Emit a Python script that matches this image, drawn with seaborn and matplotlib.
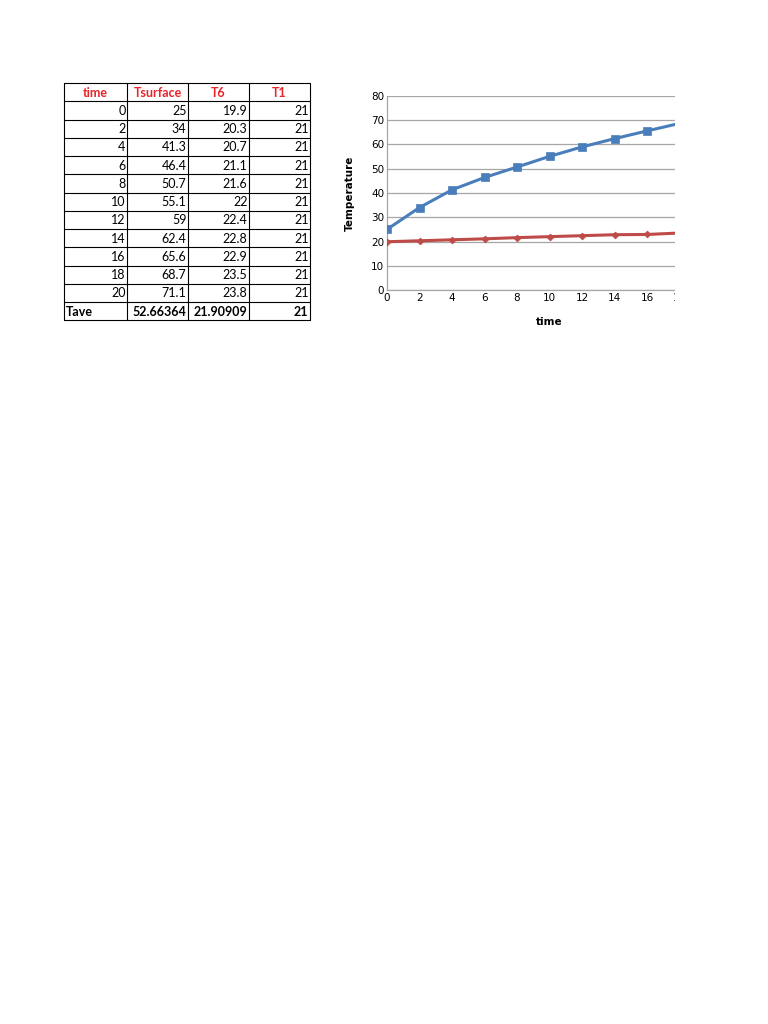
import matplotlib
matplotlib.use("Agg")
import matplotlib.pyplot as plt
import seaborn as sns
import pandas as pd
from matplotlib.patches import Rectangle

# ---- data ----
time = [0, 2, 4, 6, 8, 10, 12, 14, 16, 18, 20]
tsurface = [25, 34, 41.3, 46.4, 50.7, 55.1, 59, 62.4, 65.6, 68.7, 71.1]
t6 = [19.9, 20.3, 20.7, 21.1, 21.6, 22, 22.4, 22.8, 22.9, 23.5, 23.8]
t1 = [21, 21, 21, 21, 21, 21, 21, 21, 21, 21, 21]
headers = ["time", "Tsurface", "T6", "T1"]
tave_label = "Tave"
tave_values = ["52.66364", "21.90909", "21"]
y_ticks = [0, 10, 20, 30, 40, 50, 60, 70, 80]
x_ticks = [0, 2, 4, 6, 8, 10, 12, 14, 16, 18, 20]

sns.set_theme(style="white")
plt.rcParams["font.family"] = ["DejaVu Sans"]
plt.rcParams["text.color"] = "black"
plt.rcParams["axes.labelcolor"] = "black"

W, H = 768, 1024
fig = plt.figure(figsize=(W / 100, H / 100), dpi=100)
fig.patch.set_facecolor("white")

# ---- chart ----
x0, x1 = 387, 712
y_top, y_bot = 96, 290
ax = fig.add_axes([x0 / W, 1 - y_bot / H, (x1 - x0) / W, (y_bot - y_top) / H])
df = pd.DataFrame({"time": time * 2,
                   "value": tsurface + t6,
                   "series": ["Tsurface"] * len(time) + ["T6"] * len(time)})
sns.lineplot(data=df, x="time", y="value", hue="series", style="series",
             palette={"Tsurface": "#4A7EBB", "T6": "#BE4B48"},
             markers={"Tsurface": "s", "T6": "D"},
             dashes={"Tsurface": "", "T6": ""},
             linewidth=2.2, legend=False, ax=ax, zorder=3)
for line, ms in zip(ax.lines, [5.5, 3.5]):
    line.set_markersize(ms)
    line.set_markeredgewidth(0.5)
    line.set_markeredgecolor(line.get_color())
ax.set_xlim(0, 20)
ax.set_ylim(0, 80)
ax.set_xticks(x_ticks)
ax.set_yticks(y_ticks)
ax.set_xticklabels([str(t) for t in x_ticks], fontsize=7.5)
ax.set_yticklabels([str(t) for t in y_ticks], fontsize=7.5)
ax.tick_params(axis="both", length=0, pad=2, colors="black")
ax.yaxis.grid(True, color="#A6A6A6", linewidth=0.9)
ax.xaxis.grid(False)
for s in ["top", "right"]:
    ax.spines[s].set_visible(False)
for s in ["left", "bottom"]:
    ax.spines[s].set_color("#A6A6A6")
    ax.spines[s].set_linewidth(0.9)
ax.set_xlabel("time", fontsize=7.5, fontweight="bold", labelpad=10, color="black")
ax.set_ylabel("Temperature", fontsize=7.5, fontweight="bold", labelpad=12, color="black")

# clip the chart on the right like the page edge
fig.patches.append(Rectangle((675 / W, 1 - 340 / H), (W - 675) / W, 270 / H,
                             transform=fig.transFigure, facecolor="white",
                             edgecolor="none", zorder=10))

# ---- table ----
tax = fig.add_axes([0, 0, 1, 1], zorder=20)
tax.set_xlim(0, W)
tax.set_ylim(H, 0)
tax.axis("off")
cols = [64, 127, 188, 249, 310]
row_top = 83
row_h = 18.25
n_rows = 2 + len(time)
row_bot = row_top + n_rows * row_h
for cx in cols:
    tax.plot([cx, cx], [row_top, row_bot], color="black", lw=0.8)
for r in range(n_rows + 1):
    yy = row_top + r * row_h
    tax.plot([cols[0], cols[-1]], [yy, yy], color="black", lw=0.8)

fs = 9
tfont = ["Lato", "DejaVu Sans"]
for j, h in enumerate(headers):
    tax.text((cols[j] + cols[j + 1]) / 2, row_top + row_h / 2 + 0.5, h,
             color="#E8232A", fontweight="bold", ha="center", va="center",
             fontsize=fs, family=tfont)
for i in range(len(time)):
    yc = row_top + (i + 1) * row_h + row_h / 2 + 0.5
    vals = [time[i], tsurface[i], t6[i], t1[i]]
    for j, v in enumerate(vals):
        txt = f"{v:g}"
        tax.text(cols[j + 1] - 1.5, yc, txt, ha="right", va="center", fontsize=fs,
                 color="black", family=tfont)
yc = row_top + (n_rows - 1) * row_h + row_h / 2 + 0.5
tax.text(cols[0] + 1.5, yc, tave_label, ha="left", va="center", fontsize=fs,
         fontweight="bold", color="black", family=tfont)
for j, v in enumerate(tave_values):
    tax.text(cols[j + 2] - 1.5, yc, v, ha="right", va="center", fontsize=fs,
             fontweight="bold", color="black", family=tfont)

fig.savefig("out.png", dpi=100, facecolor="white")
